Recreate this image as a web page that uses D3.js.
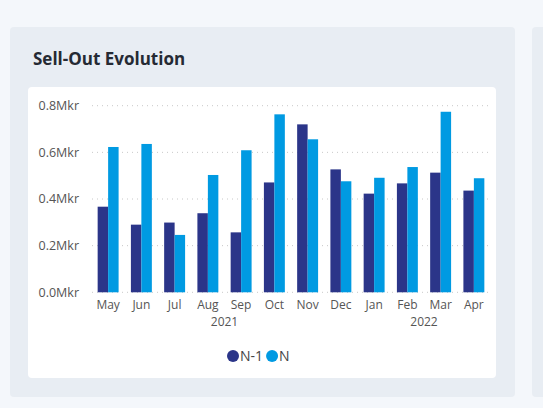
<!DOCTYPE html><html><head><script src="https://cdn.jsdelivr.net/npm/d3@7"></script>
<style>body{margin:0;background:#f4f7fb;font-family:"Segoe UI","Open Sans",sans-serif}</style></head><body>
<svg id="c" width="543" height="408"></svg>
<script>
const months=["May","Jun","Jul","Aug","Sep","Oct","Nov","Dec","Jan","Feb","Mar","Apr"];
const nMinus1=[0.367,0.29,0.299,0.339,0.257,0.471,0.72,0.527,0.423,0.467,0.513,0.436];
const nCur=[0.623,0.636,0.246,0.503,0.609,0.763,0.656,0.476,0.491,0.537,0.774,0.489];
const yTicks=[0,0.2,0.4,0.6,0.8];
const years=[{label:"2021",from:"Aug",to:"Sep"},{label:"2022",from:"Feb",to:"Mar"}];
const series=["N-1","N"];
const colors=["#2b3589","#009ae2"];
const svg=d3.select("#c");
svg.append("rect").attr("x",10).attr("y",27).attr("width",505).attr("height",370).attr("rx",4).attr("fill","#e8edf3");
svg.append("rect").attr("x",532).attr("y",27).attr("width",20).attr("height",370).attr("rx",4).attr("fill","#e8edf3");
svg.append("rect").attr("x",28).attr("y",87).attr("width",468).attr("height",291).attr("rx",4).attr("fill","#fff");
svg.append("text").attr("x",33).attr("y",65).attr("font-size",17).attr("font-weight",700).attr("fill","#252a33").text("Sell-Out Evolution");
const x=d3.scaleBand().domain(months).range([92,490]).paddingInner(0.37).paddingOuter(0.17);
const x1=d3.scaleBand().domain(series).range([0,x.bandwidth()]);
const y=d3.scaleLinear().domain([0,0.8]).range([292.3,105.7]);
const g=svg.append("g");
yTicks.forEach(t=>{
 g.append("line").attr("x1",92).attr("x2",490).attr("y1",y(t)).attr("y2",y(t)).attr("stroke","#c8c8c8").attr("stroke-dasharray","1,4");
 g.append("text").attr("x",79).attr("y",y(t)).attr("dy","0.35em").attr("text-anchor","end").attr("font-size",12.5).attr("fill","#555").text(t.toFixed(1)+"Mkr");
});
[nMinus1,nCur].forEach((vals,si)=>{
 g.selectAll(null).data(months).enter().append("rect")
  .attr("x",m=>x(m)+x1(series[si])).attr("width",x1.bandwidth())
  .attr("y",(m,i)=>y(vals[i])).attr("height",(m,i)=>y(0)-y(vals[i])).attr("fill",colors[si]);
});
months.forEach(m=>g.append("text").attr("x",x(m)+x.bandwidth()/2).attr("y",309).attr("text-anchor","middle").attr("font-size",12).attr("fill","#555").text(m));
years.forEach(yr=>{const cx=(x(yr.from)+x(yr.to)+x.bandwidth())/2;
 g.append("text").attr("x",cx).attr("y",326).attr("text-anchor","middle").attr("font-size",12).attr("fill","#555").text(yr.label);});
const lg=svg.append("g");
let lx=227;
series.forEach((s,i)=>{
 lg.append("circle").attr("cx",lx+6).attr("cy",356).attr("r",6).attr("fill",colors[i]);
 const t=lg.append("text").attr("x",lx+13).attr("y",356).attr("dy","0.35em").attr("font-size",14).attr("fill","#444").text(s);
 lx+=13+t.node().getComputedTextLength()+3;
});
</script></body></html>
